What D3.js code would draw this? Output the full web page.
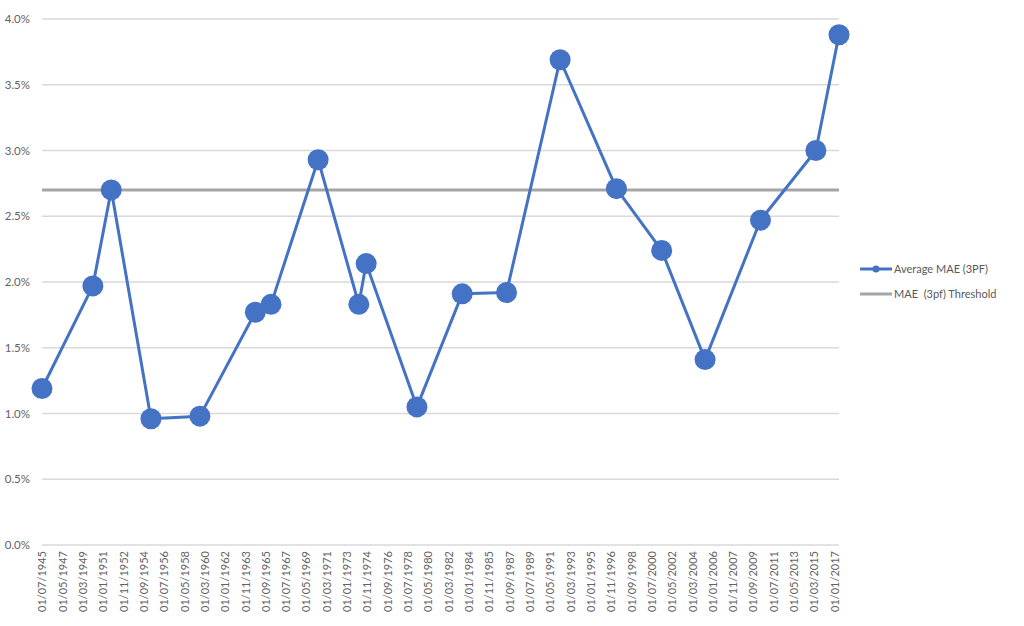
<!DOCTYPE html>
<html>
<head>
<meta charset="utf-8">
<script src="https://cdn.jsdelivr.net/npm/d3@7"></script>
<style>
  body { margin: 0; background: #fff; }
  text { font-family: Lato, "Open Sans", sans-serif; fill: #595959; }
</style>
</head>
<body>
<div id="chart"></div>
<script>
var width = 1024;
var height = 626;

// election dates (month start) and average MAE in %
const dates = ["1945-07", "1950-02", "1951-10", "1955-05", "1959-10", "1964-10", "1966-03",
  "1970-06", "1974-02", "1974-10", "1979-05", "1983-06", "1987-06", "1992-04",
  "1997-05", "2001-06", "2005-05", "2010-05", "2015-05", "2017-06"];
const mae = [1.19, 1.97, 2.70, 0.96, 0.98, 1.77, 1.83, 2.93, 1.83, 2.14, 1.05, 1.91,
  1.92, 3.69, 2.71, 2.24, 1.41, 2.47, 3.00, 3.88];
const threshold = 2.7;
const yTicks = [0, 0.5, 1, 1.5, 2, 2.5, 3, 3.5, 4];
const seriesNames = ["Average MAE (3PF)", "MAE  (3pf) Threshold"];

const parseMonth = d3.timeParse("%Y-%m");
const fmtTick = d3.timeFormat("%d/%m/%Y");
const data = dates.map((d, i) => ({ date: parseMonth(d), value: mae[i] }));

const margin = { left: 42, right: 185, top: 19, bottom: 81 };

const svg = d3.select("#chart")
  .append("svg")
  .attr("width", width)
  .attr("height", height);

const x = d3.scaleTime()
  .domain(d3.extent(data, d => d.date))
  .range([margin.left, width - margin.right]);

const y = d3.scaleLinear()
  .domain([0, 4])
  .range([height - margin.bottom, margin.top]);

// tick every 22 months from the first date, like the Excel date axis
const xTicks = d3.timeMonth.every(1).range(x.domain()[0], d3.timeMonth.offset(x.domain()[1], 1))
  .filter((d, i) => i % 22 === 0);

// gridlines
svg.append("g")
  .selectAll("line")
  .data(yTicks)
  .join("line")
  .attr("x1", x.range()[0])
  .attr("x2", x.range()[1])
  .attr("y1", d => y(d))
  .attr("y2", d => y(d))
  .attr("stroke", "#d9d9d9")
  .attr("stroke-width", 1.3);

// y axis labels
svg.append("g")
  .attr("transform", `translate(${margin.left - 12},0)`)
  .call(d3.axisLeft(y).tickValues(yTicks).tickSize(0).tickFormat(d => d.toFixed(1) + "%"))
  .call(g => g.select(".domain").remove())
  .selectAll("text")
  .attr("x", 0)
  .style("font-size", "11.5px")
  .style("fill", "#636363");

// x axis labels
svg.append("g")
  .attr("transform", `translate(0,${height - margin.bottom + 6})`)
  .call(d3.axisBottom(x).tickValues(xTicks).tickSize(0).tickFormat(fmtTick))
  .call(g => g.select(".domain").remove())
  .selectAll("text")
  .attr("transform", "rotate(-90)")
  .attr("text-anchor", "end")
  .attr("x", 0)
  .attr("y", 0)
  .attr("dx", 0)
  .attr("dy", "0.35em")
  .style("font-size", "11px")
  .style("fill", "#636363");

// threshold
svg.append("line")
  .attr("x1", x.range()[0])
  .attr("x2", x.range()[1])
  .attr("y1", y(threshold))
  .attr("y2", y(threshold))
  .attr("stroke", "#a5a5a5")
  .attr("stroke-width", 3);

// series line
const line = d3.line()
  .x(d => x(d.date))
  .y(d => y(d.value));

svg.append("path")
  .datum(data)
  .attr("d", line)
  .attr("fill", "none")
  .attr("stroke", "#4472c4")
  .attr("stroke-width", 3)
  .attr("stroke-linejoin", "round");

svg.append("g")
  .selectAll("circle")
  .data(data)
  .join("circle")
  .attr("cx", d => x(d.date))
  .attr("cy", d => y(d.value))
  .attr("r", 10.5)
  .attr("fill", "#4472c4");

// legend
const legend = svg.append("g").attr("transform", "translate(860,269)");
const legendColors = ["#4472c4", "#a5a5a5"];
seriesNames.forEach((name, i) => {
  const row = legend.append("g").attr("transform", `translate(0,${i * 25})`);
  row.append("line")
    .attr("x1", 0).attr("x2", 32)
    .attr("stroke", legendColors[i])
    .attr("stroke-width", 3);
  if (i === 0) {
    row.append("circle").attr("cx", 16).attr("r", 3.5).attr("fill", legendColors[i]);
  }
  row.append("text")
    .attr("x", 34)
    .attr("dy", "0.35em")
    .style("font-size", "11px")
    .style("white-space", "pre")
    .text(name);
});
</script>
</body>
</html>
